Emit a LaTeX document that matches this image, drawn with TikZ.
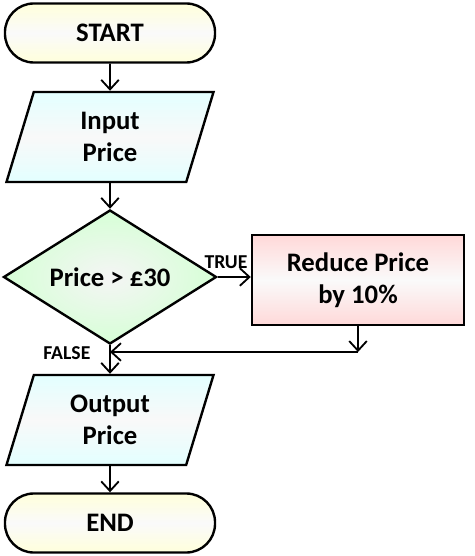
\documentclass[tikz,border=0pt]{standalone}
\usepackage{fontspec}
\setmainfont{Carlito}
\usetikzlibrary{shapes.geometric,arrows.meta}
\tikzset{
  box/.style={draw, line width=1.7pt, align=center, font=\fontsize{19}{22.5}\selectfont\bfseries},
  term/.style={box, rounded corners=0.72cm, minimum width=5.25cm, minimum height=1.475cm,
    top color=yellow!14, bottom color=yellow!14, middle color=gray!4},
  io/.style={box, trapezium, trapezium left angle=65, trapezium right angle=115,
    trapezium stretches body, minimum width=5.175cm, minimum height=2.25cm,
    top color=cyan!11, bottom color=cyan!11, middle color=gray!5},
  test/.style={box, diamond, aspect=1.59, minimum width=5.325cm, minimum height=3.35cm,
    inner color=gray!8, outer color=green!16},
  proc/.style={box, minimum width=5.3cm, minimum height=2.25cm,
    top color=red!15, bottom color=red!15, middle color=gray!4},
  lbl/.style={font=\fontsize{14}{16}\selectfont\bfseries},
  line/.style={line width=1.3pt, -{Straight Barb[length=2.4mm,width=4.4mm,line width=1.3pt]}}
}
\begin{document}
\begin{tikzpicture}[x=0.025cm, y=-0.025cm]
\useasboundingbox (0,0) rectangle (474,556);
\node[term] (start) at (110,33) {START};
\node[io] (input) at (110,137) {Input\\Price};
\node[test] (dec) at (110,277) {Price > £30};
\node[proc] (reduce) at (358,280) {Reduce Price\\by 10\%};
\node[io] (output) at (110,420) {Output\\Price};
\node[term] (stop) at (110,523) {END};
\coordinate (join) at (358,352);
\coordinate (merge) at (110,352);
\draw[line] (start) -- (input);
\draw[line] (input) -- (dec);
\draw[line] (dec.east) -- (dec.east -| reduce.west) node[lbl, pos=0.25, above=2pt] {TRUE};
\draw[line] (reduce) -- (join);
\draw[line] (join) -- (merge);
\draw[line] (dec) -- (output) node[lbl, pos=0.26, left=10pt] {FALSE};
\draw[line] (output) -- (stop);
\end{tikzpicture}
\end{document}
